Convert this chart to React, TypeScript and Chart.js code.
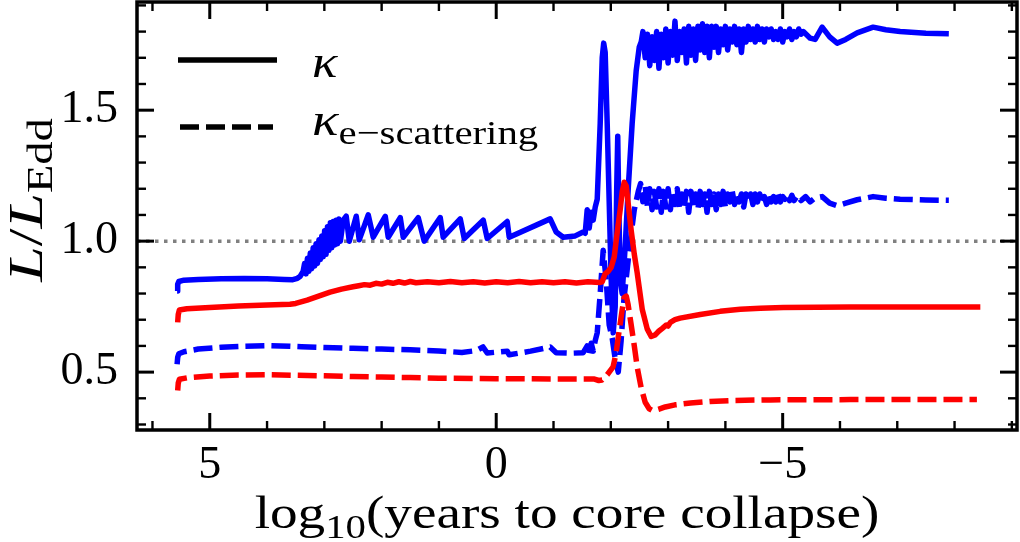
import React, { useEffect, useRef } from "react";
import { Chart, registerables } from "chart.js";

Chart.register(...registerables);

const SERIF = '"Liberation Serif", "Times New Roman", serif';
const BLUE = "#0000ff";
const RED = "#ff0000";

// Axis extents (x is log10 of years to core collapse, drawn reversed)
const X_MIN = -9.09;
const X_MAX = 6.27;
const Y_MIN = 0.279;
const Y_MAX = 1.913;

const X_LABELLED = [5, 0, -5];
const Y_LABELLED = [0.5, 1.0, 1.5];
const EDDINGTON = 1.0;

type Pt = [number, number];

// Model A, full opacity
const kappaBlue: Pt[] = [
  [5.57, 0.81], [5.56, 0.835], [5.54, 0.846], [5.45, 0.851], [5.2, 0.854], [4.8, 0.856],
  [4.4, 0.857], [4.0, 0.856], [3.7, 0.854], [3.55, 0.853], [3.47, 0.858], [3.42, 0.866],
  [3.37, 0.885], [3.345, 0.915], [3.32, 0.875], [3.295, 0.935], [3.27, 0.885], [3.245, 0.955],
  [3.22, 0.895], [3.195, 0.975], [3.17, 0.905], [3.145, 0.99], [3.12, 0.915], [3.095, 1.005],
  [3.07, 0.93], [3.045, 1.02], [3.02, 0.94], [2.995, 1.04], [2.97, 0.95], [2.945, 1.055],
  [2.92, 0.965], [2.895, 1.07], [2.87, 0.975], [2.845, 1.075], [2.82, 0.985], [2.795, 1.08],
  [2.77, 0.99], [2.745, 1.085], [2.72, 1.0], [2.67, 1.08], [2.618, 1.095], [2.565, 1.0],
  [2.443, 1.095], [2.391, 1.005], [2.234, 1.1], [2.147, 1.015], [1.937, 1.095], [1.885, 1.015],
  [1.675, 1.09], [1.623, 1.015], [1.361, 1.09], [1.257, 1.0], [0.977, 1.09], [0.925, 1.015],
  [0.628, 1.085], [0.558, 1.01], [0.227, 1.08], [0.157, 1.01], [-0.192, 1.075], [-0.227, 1.015],
  [-0.942, 1.085], [-1.047, 1.035], [-1.169, 1.015], [-1.379, 1.02], [-1.518, 1.035],
  [-1.553, 1.03], [-1.588, 1.12], [-1.623, 1.05], [-1.658, 1.11], [-1.693, 1.08], [-1.728, 1.13],
  [-1.763, 1.16], [-1.815, 1.45], [-1.85, 1.7], [-1.876, 1.756], [-1.902, 1.72], [-1.937, 1.45],
  [-1.972, 1.15], [-2.007, 0.85], [-2.042, 0.65], [-2.077, 0.75], [-2.103, 1.2], [-2.121, 1.4],
  [-2.138, 1.15], [-2.164, 0.85], [-2.199, 0.8], [-2.251, 0.98], [-2.304, 1.2], [-2.373, 1.45],
  [-2.443, 1.65], [-2.496, 1.74],
  [-2.53, 1.76], [-2.56, 1.8], [-2.6, 1.7], [-2.64, 1.79], [-2.68, 1.67], [-2.72, 1.78],
  [-2.76, 1.69], [-2.8, 1.8], [-2.84, 1.66], [-2.88, 1.79], [-2.92, 1.7], [-2.96, 1.81],
  [-3.0, 1.68], [-3.04, 1.8], [-3.08, 1.71], [-3.12, 1.84], [-3.16, 1.69], [-3.2, 1.8],
  [-3.24, 1.72], [-3.28, 1.81], [-3.32, 1.68], [-3.36, 1.82], [-3.4, 1.71], [-3.44, 1.81],
  [-3.48, 1.69], [-3.52, 1.82], [-3.56, 1.73], [-3.6, 1.83], [-3.64, 1.72], [-3.68, 1.82],
  [-3.72, 1.7], [-3.76, 1.82], [-3.8, 1.74], [-3.84, 1.82], [-3.88, 1.72], [-3.92, 1.81],
  [-3.96, 1.75], [-4.0, 1.82], [-4.04, 1.73], [-4.08, 1.81], [-4.12, 1.76], [-4.16, 1.82],
  [-4.2, 1.75], [-4.24, 1.81], [-4.28, 1.72], [-4.32, 1.81], [-4.36, 1.76], [-4.4, 1.82],
  [-4.44, 1.77], [-4.48, 1.81], [-4.52, 1.76], [-4.56, 1.82], [-4.6, 1.77], [-4.64, 1.81],
  [-4.68, 1.76], [-4.72, 1.81], [-4.76, 1.78], [-4.8, 1.81], [-4.84, 1.77], [-4.88, 1.8],
  [-4.92, 1.77], [-4.96, 1.81], [-5.0, 1.76], [-5.04, 1.8], [-5.08, 1.78], [-5.12, 1.81],
  [-5.16, 1.77], [-5.2, 1.8], [-5.24, 1.78], [-5.28, 1.81], [-5.32, 1.79], [-5.36, 1.8],
  [-5.48, 1.775], [-5.567, 1.77], [-5.689, 1.817], [-5.82, 1.78], [-5.951, 1.756], [-6.1, 1.77],
  [-6.3, 1.795], [-6.579, 1.817], [-6.8, 1.807], [-7.05, 1.8], [-7.5, 1.794], [-7.9, 1.792],
];

// Model A, electron-scattering opacity only
const kappaEsBlue: Pt[] = [
  [5.57, 0.53], [5.56, 0.556], [5.54, 0.57], [5.45, 0.578], [5.2, 0.588], [4.8, 0.595],
  [4.4, 0.599], [4.0, 0.601], [3.6, 0.599], [3.4, 0.597], [3.0, 0.594], [2.5, 0.591],
  [2.0, 0.588], [1.5, 0.585], [1.0, 0.581], [0.6, 0.575], [0.35, 0.582], [0.23, 0.596],
  [0.157, 0.573], [-0.192, 0.58], [-0.227, 0.566], [-0.6, 0.58], [-0.942, 0.596],
  [-1.047, 0.574], [-1.3, 0.572], [-1.518, 0.574], [-1.588, 0.6], [-1.623, 0.57],
  [-1.658, 0.61], [-1.693, 0.58], [-1.728, 0.62], [-1.763, 0.65], [-1.815, 0.8],
  [-1.867, 0.965], [-1.92, 0.85], [-1.972, 0.68], [-2.024, 0.63], [-2.077, 0.55],
  [-2.13, 0.5], [-2.18, 0.62], [-2.23, 0.78], [-2.28, 0.88], [-2.34, 1.0], [-2.41, 1.12],
  [-2.48, 1.19], [-2.52, 1.22],
  [-2.56, 1.15], [-2.6, 1.21], [-2.64, 1.13], [-2.68, 1.2], [-2.72, 1.12], [-2.76, 1.19],
  [-2.8, 1.13], [-2.84, 1.2], [-2.88, 1.11], [-2.92, 1.19], [-2.96, 1.13], [-3.0, 1.2],
  [-3.04, 1.12], [-3.08, 1.19], [-3.12, 1.14], [-3.16, 1.2], [-3.2, 1.12], [-3.24, 1.18],
  [-3.28, 1.13], [-3.32, 1.19], [-3.36, 1.11], [-3.4, 1.19], [-3.44, 1.13], [-3.48, 1.18],
  [-3.52, 1.12], [-3.56, 1.19], [-3.6, 1.14], [-3.64, 1.18], [-3.68, 1.11], [-3.72, 1.19],
  [-3.76, 1.14], [-3.8, 1.18], [-3.84, 1.12], [-3.88, 1.18], [-3.92, 1.14], [-3.96, 1.19],
  [-4.0, 1.13], [-4.04, 1.18], [-4.08, 1.15], [-4.12, 1.19], [-4.16, 1.14], [-4.2, 1.18],
  [-4.24, 1.15], [-4.28, 1.18], [-4.32, 1.13], [-4.36, 1.18], [-4.4, 1.15], [-4.44, 1.18],
  [-4.48, 1.14], [-4.52, 1.18], [-4.56, 1.15], [-4.6, 1.18], [-4.64, 1.15], [-4.68, 1.17],
  [-4.72, 1.14], [-4.76, 1.18], [-4.8, 1.15], [-4.84, 1.17], [-4.88, 1.15], [-4.92, 1.18],
  [-4.96, 1.15], [-5.0, 1.17], [-5.04, 1.16], [-5.08, 1.18], [-5.12, 1.155], [-5.16, 1.175],
  [-5.2, 1.155], [-5.26, 1.175], [-5.32, 1.155], [-5.4, 1.17], [-5.48, 1.15], [-5.567, 1.165],
  [-5.689, 1.17], [-5.82, 1.145], [-5.951, 1.135], [-6.1, 1.145], [-6.3, 1.158],
  [-6.579, 1.17], [-6.8, 1.164], [-7.05, 1.16], [-7.5, 1.157], [-7.9, 1.156],
];

// Model B, full opacity
const kappaRed: Pt[] = [
  [5.56, 0.69], [5.55, 0.72], [5.53, 0.737], [5.4, 0.742], [5.0, 0.747], [4.5, 0.752],
  [4.0, 0.756], [3.6, 0.759], [3.5, 0.762], [3.3, 0.775], [3.1, 0.79], [2.9, 0.805],
  [2.7, 0.817], [2.5, 0.826], [2.4, 0.83], [2.3, 0.834], [2.2, 0.832], [2.1, 0.839],
  [2.0, 0.836], [1.9, 0.843], [1.8, 0.839], [1.7, 0.845], [1.6, 0.84], [1.5, 0.846],
  [1.4, 0.841], [1.2, 0.845], [1.0, 0.841], [0.8, 0.846], [0.6, 0.841], [0.4, 0.845],
  [0.2, 0.84], [0.0, 0.845], [-0.2, 0.841], [-0.4, 0.846], [-0.6, 0.841], [-0.8, 0.845],
  [-1.0, 0.841], [-1.2, 0.845], [-1.4, 0.84], [-1.6, 0.845], [-1.8, 0.842],
  [-1.85, 0.845], [-1.9, 0.875], [-1.955, 0.885], [-2.007, 0.9], [-2.06, 0.94], [-2.11, 1.03],
  [-2.164, 1.12], [-2.2, 1.19], [-2.234, 1.225], [-2.27, 1.21], [-2.3, 1.15], [-2.356, 1.04],
  [-2.41, 0.95], [-2.46, 0.88], [-2.548, 0.74], [-2.635, 0.665], [-2.705, 0.636],
  [-2.775, 0.642], [-2.83, 0.655], [-2.9, 0.667], [-2.97, 0.68], [-3.0, 0.676], [-3.04, 0.69],
  [-3.12, 0.7], [-3.21, 0.706], [-3.56, 0.72], [-3.91, 0.732], [-4.26, 0.74], [-4.61, 0.744],
  [-5.01, 0.747], [-6.18, 0.749], [-8.45, 0.749],
];

// Model B, electron-scattering opacity only
const kappaEsRed: Pt[] = [
  [5.56, 0.43], [5.55, 0.458], [5.53, 0.473], [5.4, 0.478], [5.0, 0.485], [4.5, 0.489],
  [4.0, 0.49], [3.5, 0.488], [3.0, 0.486], [2.5, 0.483], [2.0, 0.481], [1.5, 0.479],
  [1.0, 0.477], [0.0, 0.475], [-1.0, 0.474], [-1.7, 0.474], [-1.79, 0.468], [-1.85, 0.47],
  [-1.937, 0.49], [-2.04, 0.52], [-2.09, 0.57], [-2.147, 0.66], [-2.2, 0.74], [-2.234, 0.785],
  [-2.27, 0.79], [-2.3, 0.76], [-2.356, 0.68], [-2.41, 0.6], [-2.46, 0.52], [-2.53, 0.44],
  [-2.6, 0.385], [-2.67, 0.36], [-2.74, 0.352], [-2.83, 0.358], [-2.95, 0.367], [-3.12, 0.375],
  [-3.39, 0.382], [-3.73, 0.388], [-4.17, 0.392], [-4.78, 0.394], [-6.18, 0.395], [-8.39, 0.395],
];

const LINE_W = 5.5;
const DASH = [19, 7];

const toXY = (pts: Pt[]) => pts.map(([x, y]) => ({ x, y }));

type Run = { text: string; font: string; dy?: number };

function runsWidth(ctx: CanvasRenderingContext2D, runs: Run[]) {
  let w = 0;
  for (const r of runs) {
    ctx.font = r.font;
    w += ctx.measureText(r.text).width;
  }
  return w;
}

// Draws a sequence of differently styled pieces on one baseline, optionally
// stretched horizontally by sx.
function drawRuns(ctx: CanvasRenderingContext2D, runs: Run[], x: number, y: number, sx = 1) {
  ctx.save();
  ctx.translate(x, y);
  ctx.scale(sx, 1);
  let cx = 0;
  for (const r of runs) {
    ctx.font = r.font;
    ctx.fillText(r.text, cx, r.dy || 0);
    cx += ctx.measureText(r.text).width;
  }
  ctx.restore();
}

const isMultiple = (v: number, step: number) => Math.abs(v / step - Math.round(v / step)) < 1e-6;

const decorPlugin = {
  id: "decor",
  afterDraw(chart: any) {
    const { ctx, chartArea: a, scales } = chart;
    const xs = scales.x;
    const ys = scales.y;
    ctx.save();
    ctx.strokeStyle = "#000";
    ctx.fillStyle = "#000";
    ctx.lineCap = "butt";
    ctx.setLineDash([]);

    const seg = (x1: number, y1: number, x2: number, y2: number) => {
      ctx.beginPath();
      ctx.moveTo(x1, y1);
      ctx.lineTo(x2, y2);
      ctx.stroke();
    };

    // inward tick marks on all four sides
    for (const t of xs.ticks) {
      const px = xs.getPixelForValue(t.value);
      const major = isMultiple(t.value, 5);
      const len = major ? 17 : 9;
      ctx.lineWidth = major ? 3 : 2.4;
      seg(px, a.bottom, px, a.bottom - len);
      seg(px, a.top, px, a.top + len);
    }
    for (const t of ys.ticks) {
      const py = ys.getPixelForValue(t.value);
      const major = isMultiple(t.value, 0.5);
      const len = major ? 17 : 9;
      ctx.lineWidth = major ? 3 : 2.4;
      seg(a.left, py, a.left + len, py);
      seg(a.right, py, a.right - len, py);
    }

    // frame
    ctx.lineWidth = 3.5;
    ctx.strokeRect(a.left, a.top, a.right - a.left, a.bottom - a.top);

    const big = `46px ${SERIF}`;
    const bigItalic = `italic 46px ${SERIF}`;
    const sub = `34px ${SERIF}`;

    // x-axis title
    ctx.textBaseline = "alphabetic";
    const xRuns: Run[] = [
      { text: "log", font: big },
      { text: "10", font: sub, dy: 10 },
      { text: "(years to core collapse)", font: big },
    ];
    const xStretch = 1.2;
    const xw = runsWidth(ctx, xRuns) * xStretch;
    drawRuns(ctx, xRuns, (a.left + a.right) / 2 - 10 - xw / 2, a.bottom + 98, xStretch);

    // y-axis title, rotated
    const yRuns: Run[] = [
      { text: "L", font: `italic 48px ${SERIF}` },
      { text: "/", font: `48px ${SERIF}` },
      { text: "L", font: `italic 48px ${SERIF}` },
      { text: "Edd", font: `35px ${SERIF}`, dy: 10 },
    ];
    const yStretch = 1.33;
    const yw = runsWidth(ctx, yRuns) * yStretch;
    ctx.save();
    ctx.translate(a.left - 95, (a.top + a.bottom) / 2 - 16);
    ctx.rotate(-Math.PI / 2);
    drawRuns(ctx, yRuns, -yw / 2, 0, yStretch);
    ctx.restore();

    // legend
    ctx.lineWidth = LINE_W;
    ctx.setLineDash([]);
    seg(a.left + 41, a.top + 58, a.left + 140, a.top + 58);
    ctx.setLineDash(DASH);
    seg(a.left + 43, a.top + 125, a.left + 136, a.top + 125);
    ctx.setLineDash([]);
    drawRuns(ctx, [{ text: "κ", font: bigItalic }], a.left + 175, a.top + 75, 1.15);
    drawRuns(
      ctx,
      [
        { text: "κ", font: bigItalic },
        { text: "e−scattering", font: sub, dy: 9 },
      ],
      a.left + 175,
      a.top + 133,
      1.2
    );

    ctx.restore();
  },
};

export default function App() {
  const ref = useRef<HTMLCanvasElement>(null);

  useEffect(() => {
    const prevMargin = document.body.style.margin;
    document.body.style.margin = "0";
    const canvas = ref.current!;

    const lineDs = (label: string, pts: Pt[], color: string, dashed: boolean, order: number) => ({
      label,
      data: toXY(pts),
      borderColor: color,
      backgroundColor: color,
      borderWidth: LINE_W,
      borderDash: dashed ? DASH : [],
      borderJoinStyle: "round" as const,
      borderCapStyle: "butt" as const,
      pointRadius: 0,
      tension: 0,
      fill: false,
      order,
    });

    const chart = new Chart(canvas, {
      type: "line",
      data: {
        datasets: [
          lineDs("κ (B)", kappaRed, RED, false, 1),
          lineDs("κ_es (B)", kappaEsRed, RED, true, 2),
          lineDs("κ (A)", kappaBlue, BLUE, false, 3),
          lineDs("κ_es (A)", kappaEsBlue, BLUE, true, 4),
          {
            label: "Eddington",
            data: [
              { x: X_MAX, y: EDDINGTON },
              { x: X_MIN, y: EDDINGTON },
            ],
            borderColor: "#808080",
            borderWidth: 3.5,
            borderDash: [3.5, 5.5],
            borderCapStyle: "butt",
            pointRadius: 0,
            fill: false,
            order: 10,
          } as any,
        ],
      },
      options: {
        responsive: false,
        animation: false,
        devicePixelRatio: 1,
        layout: { padding: { left: 0, right: 3, top: 2, bottom: 0 } },
        plugins: {
          legend: { display: false },
          tooltip: { enabled: false },
          title: { display: false },
        },
        scales: {
          x: {
            type: "linear",
            reverse: true,
            min: X_MIN,
            max: X_MAX,
            grid: { display: false, drawTicks: false },
            border: { display: false },
            ticks: {
              stepSize: 1,
              autoSkip: false,
              includeBounds: false,
              maxRotation: 0,
              padding: 8,
              color: "#000",
              font: { family: SERIF, size: 46 },
              callback: (v: any) => {
                const n = Number(v);
                if (!X_LABELLED.some((m) => Math.abs(m - n) < 1e-6)) return "";
                return n < 0 ? "\u2212" + Math.abs(n) : String(n);
              },
            },
            afterFit: (s: any) => {
              s.height = 112;
              s.paddingLeft = 0;
              s.paddingRight = 0;
            },
          },
          y: {
            type: "linear",
            min: Y_MIN,
            max: Y_MAX,
            grid: { display: false, drawTicks: false },
            border: { display: false },
            ticks: {
              stepSize: 0.1,
              autoSkip: false,
              includeBounds: false,
              padding: 19,
              color: "#000",
              font: { family: SERIF, size: 46 },
              callback: (v: any) => {
                const n = Number(v);
                if (!Y_LABELLED.some((m) => Math.abs(m - n) < 1e-6)) return "";
                return n.toFixed(1);
              },
            },
            afterFit: (s: any) => {
              s.width = 137;
              s.paddingTop = 0;
              s.paddingBottom = 0;
            },
          },
        },
      },
      plugins: [decorPlugin],
    });

    return () => {
      chart.destroy();
      document.body.style.margin = prevMargin;
    };
  }, []);

  return (
    <canvas
      ref={ref}
      width={1020}
      height={542}
      style={{ display: "block", width: 1020, height: 542 }}
    />
  );
}
